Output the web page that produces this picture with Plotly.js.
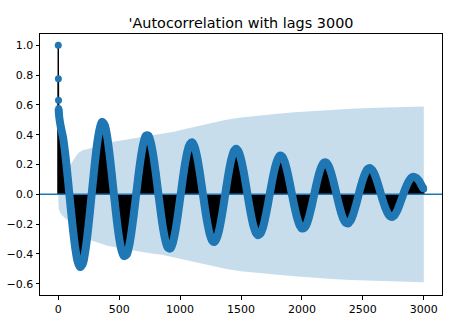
<!DOCTYPE html>
<html>
<head>
<meta charset="utf-8">
<script src="https://cdn.plot.ly/plotly-3.0.1.min.js"></script>
<style>
html,body{margin:0;padding:0;background:#ffffff;}
#chart{width:456px;height:323px;}
</style>
</head>
<body>
<div id="chart"></div>
<script>
const lags = [0,1,2,3,5,10,
  20,40,60,80,100,120,140,160,180,200,220,240,260,280,300,320,340,360,380,400,
  420,440,460,480,500,520,540,560,580,600,620,640,660,680,700,720,740,760,780,800,
  820,840,860,880,900,920,940,960,980,1000,1020,1040,1060,1080,1100,1120,1140,1160,1180,1200,
  1220,1240,1260,1280,1300,1320,1340,1360,1380,1400,1420,1440,1460,1480,1500,1520,1540,1560,1580,1600,
  1620,1640,1660,1680,1700,1720,1740,1760,1780,1800,1820,1840,1860,1880,1900,1920,1940,1960,1980,2000,
  2020,2040,2060,2080,2100,2120,2140,2160,2180,2200,2220,2240,2260,2280,2300,2320,2340,2360,2380,2400,
  2420,2440,2460,2480,2500,2520,2540,2560,2580,2600,2620,2640,2660,2680,2700,2720,2740,2760,2780,2800,
  2820,2840,2860,2880,2900,2920,2940,2960,2980,3000];

// Autocorrelation values
const acfValues = [1.0,0.775,0.63,0.575,0.545,0.505,
  0.455,0.377,0.250,0.094,-0.074,-0.232,-0.364,-0.453,-0.488,-0.468,-0.390,-0.268,-0.116,0.049,0.209,0.345,0.440,0.485,0.466,0.393,
  0.275,0.130,-0.025,-0.172,-0.294,-0.377,-0.414,-0.405,-0.352,-0.258,-0.134,0.004,0.141,0.259,0.348,0.394,0.393,0.345,0.259,0.144,
  0.014,-0.114,-0.227,-0.311,-0.358,-0.363,-0.326,-0.252,-0.149,-0.030,0.092,0.202,0.287,0.337,0.349,0.317,0.250,0.155,0.044,-0.071,
  -0.175,-0.256,-0.306,-0.320,-0.297,-0.241,-0.157,-0.055,0.052,0.152,0.233,0.287,0.306,0.288,0.236,0.159,0.065,-0.035,-0.128,-0.204,
  -0.254,-0.274,-0.263,-0.222,-0.155,-0.071,0.020,0.108,0.182,0.234,0.259,0.252,0.215,0.154,0.077,-0.007,-0.088,-0.156,-0.205,-0.229,
  -0.225,-0.198,-0.147,-0.080,-0.004,0.071,0.137,0.186,0.212,0.213,0.189,0.144,0.083,0.013,-0.056,-0.118,-0.165,-0.191,-0.195,-0.176,
  -0.137,-0.083,-0.021,0.043,0.099,0.143,0.170,0.176,0.161,0.128,0.081,0.026,-0.030,-0.081,-0.120,-0.145,-0.152,-0.140,-0.113,-0.073,
  -0.028,0.019,0.060,0.092,0.112,0.117,0.110,0.092,0.063,0.035];

// Confidence band (half-width around zero)
const bandLags = [0.5,5,20,50,80,110,140,170,200,250,300,350,400,470,550,650,750,850,950,1050,
  1160,1270,1380,1500,1660,1800,1940,2100,2250,2400,2550,2700,2850,3000.5];
const bandHalfWidth = [0.06,0.10,0.13,0.155,0.175,0.21,0.25,0.28,0.295,0.305,0.315,0.33,0.345,0.355,0.365,0.38,0.395,0.405,0.42,0.44,
  0.46,0.48,0.50,0.515,0.53,0.54,0.55,0.56,0.567,0.574,0.579,0.583,0.586,0.589];

const xTickValues = [0,500,1000,1500,2000,2500,3000];
const yTickValues = [-0.6,-0.4,-0.2,0.0,0.2,0.4,0.6,0.8,1.0];
const xRange = [-150,3150];
const yRange = [-0.675,1.075];
const titleText = "'Autocorrelation with lags 3000";

const blue = '#1f77b4';

// stems
const stemX = [], stemY = [];
lags.forEach((l,i)=>{ stemX.push(l,l,null); stemY.push(0,acfValues[i],null); });

const traces = [
  { x: bandLags.concat(bandLags.slice().reverse()),
    y: bandHalfWidth.concat(bandHalfWidth.slice().reverse().map(v=>-v)),
    type:'scatter', mode:'lines', fill:'toself', fillcolor:'rgba(31,119,180,0.25)',
    line:{width:0, color:'rgba(0,0,0,0)'}, hoverinfo:'skip' },
  { x: lags.slice(3), y: acfValues.slice(3), type:'scatter', mode:'lines', fill:'tozeroy',
    fillcolor:'#000000', line:{color:'#000000', width:1, shape:'spline', smoothing:1}, hoverinfo:'skip' },
  { x: stemX, y: stemY, type:'scatter', mode:'lines',
    line:{color:'#000000', width:1.5}, hoverinfo:'skip' },
  { x: xRange, y: [0,0], type:'scatter', mode:'lines',
    line:{color:blue, width:1.5}, hoverinfo:'skip' },
  { x: lags.slice(3), y: acfValues.slice(3), type:'scatter', mode:'lines',
    line:{color:blue, width:8, shape:'spline', smoothing:1}, hoverinfo:'skip' },
  { x: lags, y: acfValues, type:'scatter', mode:'markers',
    marker:{color:blue, size:7}, hoverinfo:'skip' }
];

const axisCommon = {
  showline:true, mirror:true, linecolor:'#000000', linewidth:1,
  ticks:'outside', ticklen:3.5, tickwidth:1, tickcolor:'#000000',
  showgrid:false, zeroline:false,
  tickfont:{family:'DejaVu Sans, sans-serif', size:11, color:'#000000'}
};

const layout = {
  width:456, height:323,
  margin:{l:40, r:14, t:34, b:28, pad:0},
  paper_bgcolor:'#ffffff', plot_bgcolor:'#ffffff',
  showlegend:false,
  title:{ text:titleText, font:{family:'DejaVu Sans, sans-serif', size:14.4, color:'#000000'},
    x:0.5, xref:'paper', xanchor:'center', y:1, yref:'paper', yanchor:'bottom', pad:{b:6} },
  xaxis: Object.assign({}, axisCommon, { range:xRange, tickmode:'array', tickvals:xTickValues,
    ticktext:xTickValues.map(String) }),
  yaxis: Object.assign({}, axisCommon, { range:yRange, tickmode:'array', tickvals:yTickValues,
    tickformat:'.1f' })
};

Plotly.newPlot('chart', traces, layout, {staticPlot:true, displayModeBar:false});
</script>
</body>
</html>
